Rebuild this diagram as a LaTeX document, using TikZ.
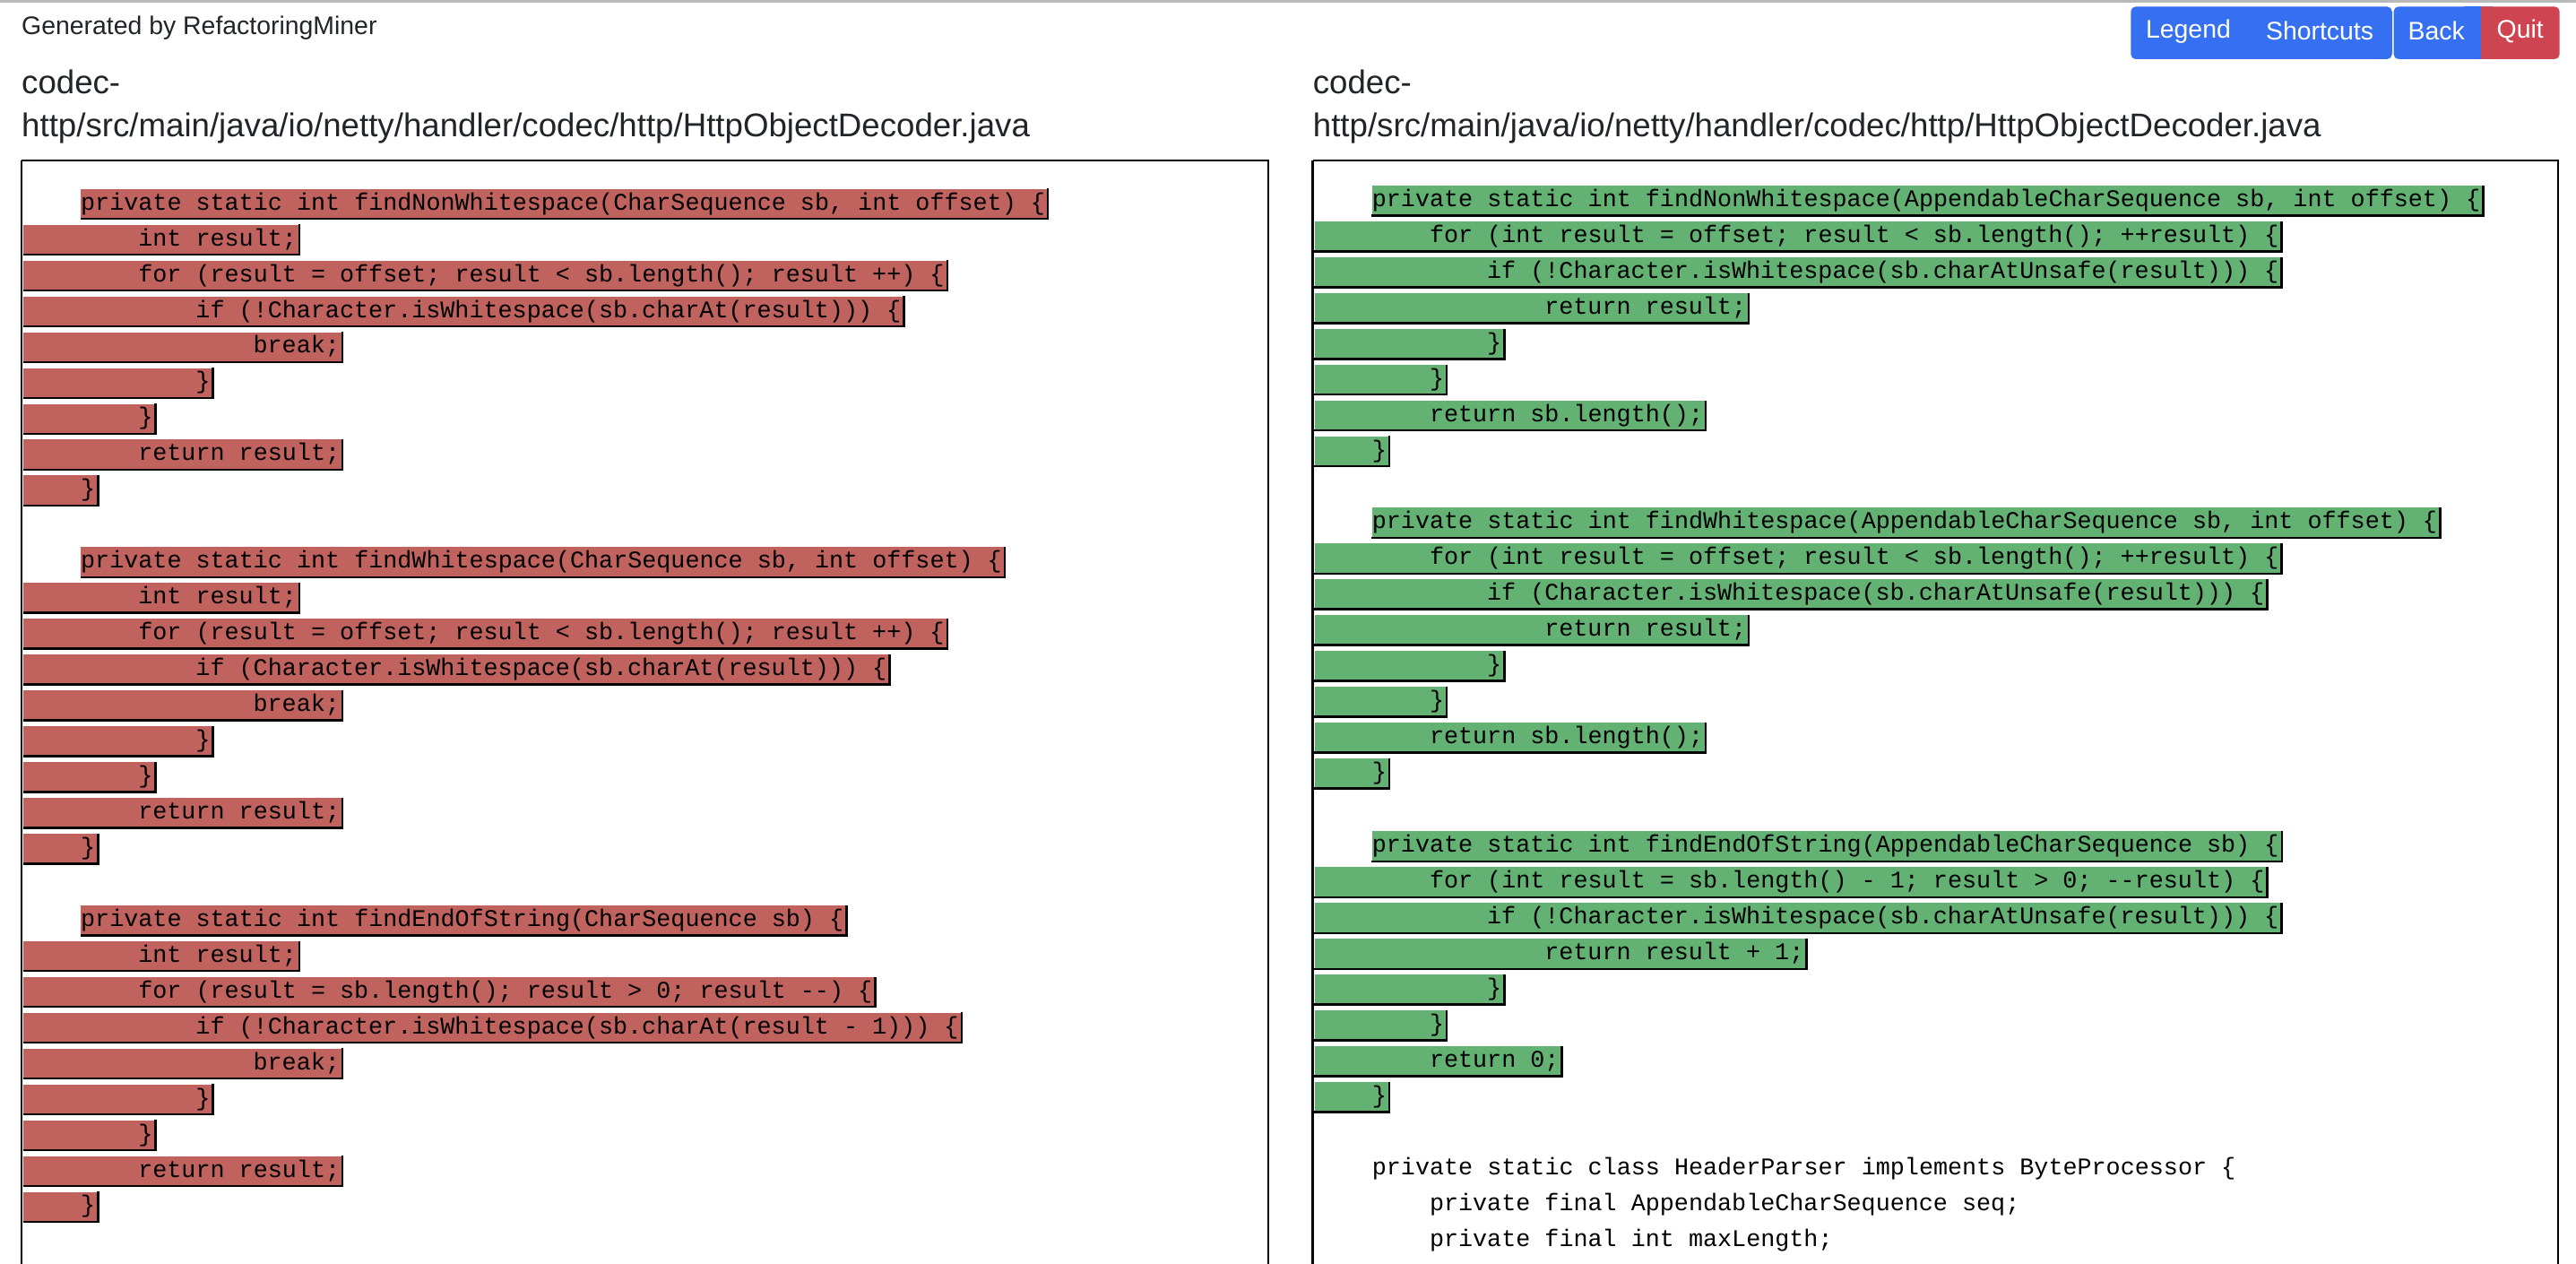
\documentclass[tikz,border=0pt]{standalone}
\usepackage{fontspec}
\setmainfont{Liberation Sans}
\newfontfamily\codefont{Liberation Mono}[Ligatures={NoCommon}]
\definecolor{delred}{RGB}{192,98,94}
\definecolor{addgreen}{RGB}{99,178,115}
\definecolor{btnblue}{RGB}{53,112,242}
\definecolor{btnred}{RGB}{206,68,80}
\definecolor{hdr}{RGB}{33,37,41}
\newlength\cw \setlength\cw{8.75pt}
\tikzset{
  codebar/.style={inner sep=0pt, minimum height=18pt, text height=10.5pt, text depth=3pt, font=\codefont\fontsize{14.6}{16}\selectfont, anchor=west},
  barline/.style={black, line width=1.3pt},
  btn/.style={text=white, font=\fontsize{15.5}{18}\selectfont},
  hd/.style={text=hdr, font=\fontsize{20}{24}\selectfont, anchor=base west, inner sep=0pt},
  panel/.style={draw=black, line width=1.2pt}
}
\newcommand\codeln[6]{%
  \node[codebar, fill=#5] (#1) at (#2,#3) {\hspace*{#4\cw}#6\hspace*{1.5pt}};
  \draw[barline] (#1.south west) -- (#1.south east) -- (#1.north east);}
\newcommand\plainln[4]{%
  \node[codebar] (#1) at (#2,#3) {\hspace*{#4\cw}};}
\begin{document}
\begin{tikzpicture}[x=1pt,y=-1pt]
\useasboundingbox (0,0) rectangle (1568,769);
\fill[white] (0,0) rectangle (1568,769);
\fill[gray!55] (0,0) rectangle (1568,1.6);
% title and headers
\node[anchor=base west, inner sep=0pt, text=hdr, font=\fontsize{15.5}{18}\selectfont] (gen) at (13,21) {Generated by RefactoringMiner};
\node[hd] (h1a) at (13,57) {codec-};
\node[hd] (h1b) at (13,83) {http/src/main/java/io/netty/handler/codec/http/HttpObjectDecoder.java};
\node[hd] (h2a) at (799,57) {codec-};
\node[hd] (h2b) at (799,83) {http/src/main/java/io/netty/handler/codec/http/HttpObjectDecoder.java};
% buttons
\fill[btnblue, rounded corners=3pt] (1297,4) rectangle (1456,36);
\fill[btnblue, rounded corners=3pt] (1457,4) rectangle (1520,36);
\fill[btnred, rounded corners=3pt] (1500,4) rectangle (1558,36);
\fill[btnblue] (1500,4) rectangle (1510,36);
\node[btn] (legend) at (1332,19) {Legend};
\node[btn] (short) at (1412,19) {Shortcuts};
\node[btn] (back) at (1483,19) {Back};
\node[btn] (quit) at (1534,19) {Quit};
% panels
\draw[panel] (13,97.5) -- (13,775) (13,97.5) -- (772,97.5) -- (772,775);
\draw[panel] (799,97.5) -- (799,775) (799,97.5) -- (1557,97.5) -- (1557,775);
% left code
\foreach \b/\k in {124/1,342/2,560/3}{}
\codeln{la1}{49}{124}{0}{delred}{private static int findNonWhitespace(CharSequence sb, int offset) \{}
\codeln{la2}{14}{145.8}{8}{delred}{int result;}
\codeln{la3}{14}{167.6}{8}{delred}{for (result = offset; result < sb.length(); result ++) \{}
\codeln{la4}{14}{189.4}{12}{delred}{if (!Character.isWhitespace(sb.charAt(result))) \{}
\codeln{la5}{14}{211.2}{16}{delred}{break;}
\codeln{la6}{14}{233}{12}{delred}{\}}
\codeln{la7}{14}{254.8}{8}{delred}{\}}
\codeln{la8}{14}{276.6}{8}{delred}{return result;}
\codeln{la9}{14}{298.4}{4}{delred}{\}}
\codeln{lb1}{49}{342}{0}{delred}{private static int findWhitespace(CharSequence sb, int offset) \{}
\codeln{lb2}{14}{363.8}{8}{delred}{int result;}
\codeln{lb3}{14}{385.6}{8}{delred}{for (result = offset; result < sb.length(); result ++) \{}
\codeln{lb4}{14}{407.4}{12}{delred}{if (Character.isWhitespace(sb.charAt(result))) \{}
\codeln{lb5}{14}{429.2}{16}{delred}{break;}
\codeln{lb6}{14}{451}{12}{delred}{\}}
\codeln{lb7}{14}{472.8}{8}{delred}{\}}
\codeln{lb8}{14}{494.6}{8}{delred}{return result;}
\codeln{lb9}{14}{516.4}{4}{delred}{\}}
\codeln{lc1}{49}{560}{0}{delred}{private static int findEndOfString(CharSequence sb) \{}
\codeln{lc2}{14}{581.8}{8}{delred}{int result;}
\codeln{lc3}{14}{603.6}{8}{delred}{for (result = sb.length(); result > 0; result -{}-) \{}
\codeln{lc4}{14}{625.4}{12}{delred}{if (!Character.isWhitespace(sb.charAt(result - 1))) \{}
\codeln{lc5}{14}{647.2}{16}{delred}{break;}
\codeln{lc6}{14}{669}{12}{delred}{\}}
\codeln{lc7}{14}{690.8}{8}{delred}{\}}
\codeln{lc8}{14}{712.6}{8}{delred}{return result;}
\codeln{lc9}{14}{734.4}{4}{delred}{\}}
% right code
\codeln{ra1}{835}{122}{0}{addgreen}{private static int findNonWhitespace(AppendableCharSequence sb, int offset) \{}
\codeln{ra2}{800}{143.8}{8}{addgreen}{for (int result = offset; result < sb.length(); ++result) \{}
\codeln{ra3}{800}{165.6}{12}{addgreen}{if (!Character.isWhitespace(sb.charAtUnsafe(result))) \{}
\codeln{ra4}{800}{187.4}{16}{addgreen}{return result;}
\codeln{ra5}{800}{209.2}{12}{addgreen}{\}}
\codeln{ra6}{800}{231}{8}{addgreen}{\}}
\codeln{ra7}{800}{252.8}{8}{addgreen}{return sb.length();}
\codeln{ra8}{800}{274.6}{4}{addgreen}{\}}
\codeln{rb1}{835}{318}{0}{addgreen}{private static int findWhitespace(AppendableCharSequence sb, int offset) \{}
\codeln{rb2}{800}{339.8}{8}{addgreen}{for (int result = offset; result < sb.length(); ++result) \{}
\codeln{rb3}{800}{361.6}{12}{addgreen}{if (Character.isWhitespace(sb.charAtUnsafe(result))) \{}
\codeln{rb4}{800}{383.4}{16}{addgreen}{return result;}
\codeln{rb5}{800}{405.2}{12}{addgreen}{\}}
\codeln{rb6}{800}{427}{8}{addgreen}{\}}
\codeln{rb7}{800}{448.8}{8}{addgreen}{return sb.length();}
\codeln{rb8}{800}{470.6}{4}{addgreen}{\}}
\codeln{rc1}{835}{515}{0}{addgreen}{private static int findEndOfString(AppendableCharSequence sb) \{}
\codeln{rc2}{800}{536.8}{8}{addgreen}{for (int result = sb.length() - 1; result > 0; -{}-result) \{}
\codeln{rc3}{800}{558.6}{12}{addgreen}{if (!Character.isWhitespace(sb.charAtUnsafe(result))) \{}
\codeln{rc4}{800}{580.4}{16}{addgreen}{return result + 1;}
\codeln{rc5}{800}{602.2}{12}{addgreen}{\}}
\codeln{rc6}{800}{624}{8}{addgreen}{\}}
\codeln{rc7}{800}{645.8}{8}{addgreen}{return 0;}
\codeln{rc8}{800}{667.6}{4}{addgreen}{\}}
% plain code
\node[codebar] (rd1) at (835,711) {private static class HeaderParser implements ByteProcessor \{};
\node[codebar] (rd2) at (870,732.8) {private final AppendableCharSequence seq;};
\node[codebar] (rd3) at (870,754.6) {private final int maxLength;};
\end{tikzpicture}
\end{document}
